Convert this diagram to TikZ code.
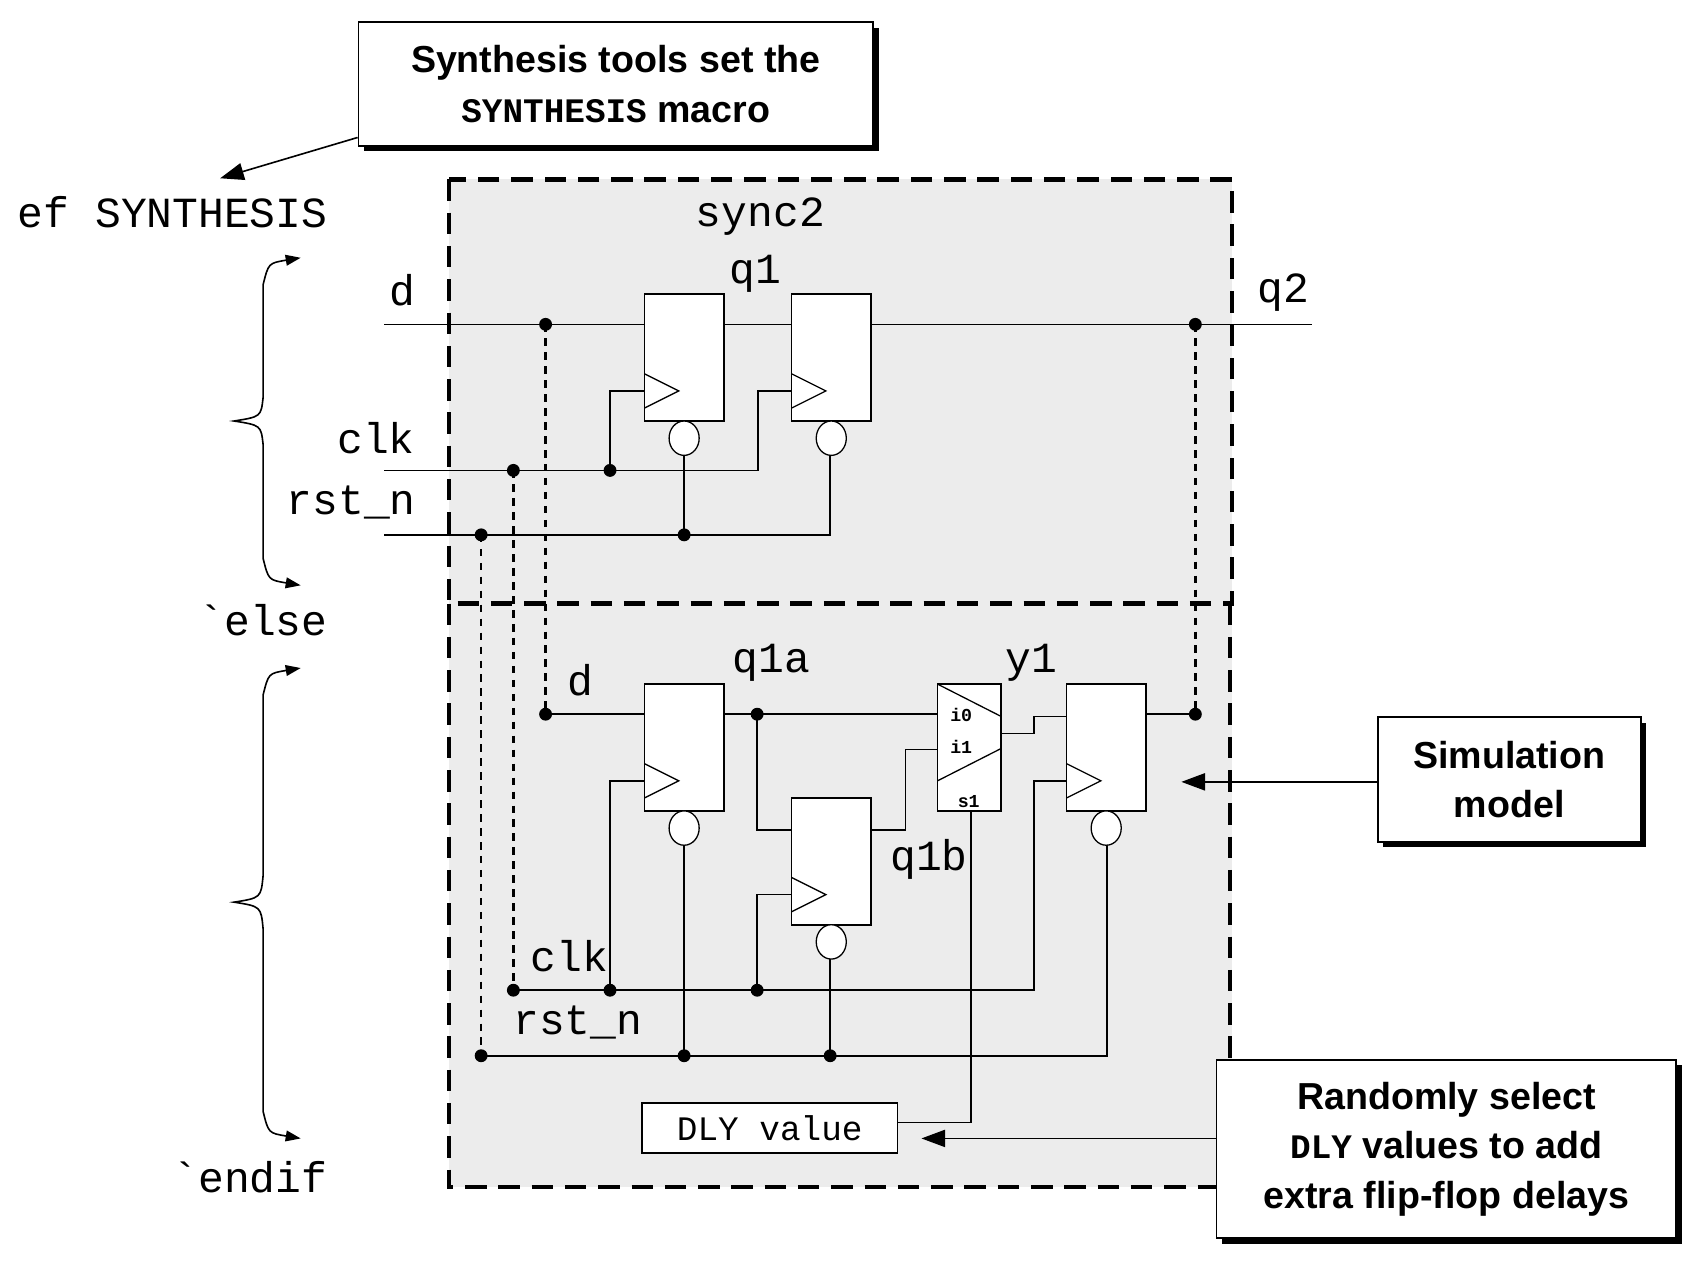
\documentclass[tikz,border=0pt]{standalone}
\usepackage{fontspec}
\setmainfont{Liberation Sans}
\newfontfamily\mono{Liberation Mono}
\usetikzlibrary{arrows.meta}
\begin{document}
\begin{tikzpicture}[x=1pt,y=-1pt,
  w/.style={line width=1.5pt},
  dsh/.style={line width=2.2pt,dash pattern=on 7pt off 6pt},
  bdash/.style={line width=4pt,dash pattern=on 20pt off 11pt},
  ff/.style={draw,fill=white,line width=1.5pt},
  dot/.style={circle,fill=black,inner sep=0pt,minimum size=12pt},
  lab/.style={font=\mono\fontsize{40}{40}\selectfont,inner sep=0pt},
  small/.style={font=\mono\bfseries\fontsize{17}{17}\selectfont,inner sep=0pt},
  call/.style={draw,line width=1.6pt,fill=white,align=center,font=\bfseries\fontsize{35}{46}\selectfont},
  arr/.style={line width=1.5pt,-{Triangle[length=22pt,width=16pt]}}]
\useasboundingbox (0,0) rectangle (1568,1176);
% gray boxes
\fill[gray!15] (418,167) rectangle (1147,1105);
\draw[bdash] (418,167) rectangle (1147,562);
\draw[bdash] (418,562) -- (418,1105) -- (1132,1105);
\draw[bdash] (1145,562) -- (1145,990);
% callouts
\fill (339,26) rectangle (818,141);
\node[call,minimum width=479pt,minimum height=115pt,anchor=north west] (syn) at (333,20) {Synthesis tools set the\\{\mono\bfseries\fontsize{32}{46}\selectfont SYNTHESIS} macro};
\node[lab,anchor=base east] (ifd) at (305,212) {ef SYNTHESIS};
\coordinate (synt) at (205,166);
\draw[arr] (333,128) -- (synt);
\fill (1288,673) rectangle (1533,789);
\node[call,minimum width=245pt,minimum height=116pt,anchor=north west] (sim) at (1282,667) {Simulation\\model};
\fill (1138,992) rectangle (1566,1158);
\node[call,minimum width=428pt,minimum height=166pt,anchor=north west,inner sep=0pt] (rnd) at (1132,986) {Randomly select\\{\mono\bfseries\fontsize{32}{46}\selectfont DLY} values to add\\extra flip-flop delays};
\coordinate (sims) at (1282,728);
\coordinate (simt) at (1100,728);
\draw[arr] (sims) -- (simt);
\node[draw,fill=white,line width=1.5pt,minimum width=238pt,minimum height=47pt,anchor=north west,font=\mono\fontsize{32}{32}\selectfont] (dly) at (597,1026) {DLY value};
\coordinate (rnds) at (1132,1060);
\coordinate (rndt) at (858,1060);
\draw[arr] (rnds) -- (rndt);
% braces
\draw[line width=1.5pt,{Triangle[length=14pt,width=10pt]}-{Triangle[length=14pt,width=10pt]}] (280,240) .. controls (250,245) .. (245,265) -- (245,370) .. controls (243,388) .. (218,392) .. controls (243,396) .. (245,414) -- (245,520) .. controls (250,540) .. (280,545);
\draw[line width=1.5pt,{Triangle[length=14pt,width=10pt]}-{Triangle[length=14pt,width=10pt]}] (280,622) .. controls (250,627) .. (245,647) -- (245,815) .. controls (243,836) .. (218,840) .. controls (243,844) .. (245,865) -- (245,1035) .. controls (250,1055) .. (280,1060);
\node[lab,anchor=base east] (els) at (305,592) {`else};
\node[lab,anchor=base east] (endf) at (305,1110) {`endif};
% labels
\node[lab] (s2) at (708,202) {sync2};
\node[lab] at (375,270) {d};
\node[lab] at (703,255) {q1};
\node[lab] at (1195,272) {q2};
\node[lab] at (350,408) {clk};
\node[lab] at (327,468) {rst\_n};
\node[lab] at (540,633) {d};
\node[lab] at (718,617) {q1a};
\node[lab] at (960,617) {y1};
\node[lab] at (865,800) {q1b};
\node[lab] at (530,890) {clk};
\node[lab] at (538,952) {rst\_n};
% dashed connections
\draw[dsh] (508,302) -- (508,665);
\draw[dsh] (478,438) -- (478,922);
\draw[dsh] (448,498) -- (448,983);
\draw[dsh] (1113,302) -- (1113,665);
% top wires
\draw[w] (358,302) -- (600,302) (674,302) -- (737,302) (811,302) -- (1222,302);
\draw[w] (358,438) -- (706,438) -- (706,364) -- (737,364);
\draw[w] (568,438) -- (568,364) -- (600,364);
\draw[w] (358,498) -- (773,498) -- (773,410);
\draw[w] (637,498) -- (637,410);
% bottom wires
\draw[w] (508,665) -- (600,665) (674,665) -- (873,665);
\draw[w] (705,665) -- (705,773) -- (737,773);
\draw[w] (811,773) -- (843,773) -- (843,698) -- (873,698);
\draw[w] (932,683) -- (963,683) -- (963,667) -- (993,667);
\draw[w] (1068,665) -- (1113,665);
\draw[w] (478,922) -- (963,922) -- (963,727) -- (993,727);
\draw[w] (568,922) -- (568,727) -- (600,727);
\draw[w] (705,922) -- (705,833) -- (737,833);
\draw[w] (448,983) -- (1031,983) -- (1031,780);
\draw[w] (637,983) -- (637,780);
\draw[w] (773,983) -- (773,880);
\draw[w] (904,755) -- (904,1045) -- (dly.east |- 0,1045);
% flip-flops
\foreach \x/\y/\n in {600/274/A,737/274/B,600/637/C,737/743/D,993/637/E}{
  \draw[ff] (\x,\y) rectangle ++(74,118);
  \draw[line width=1.2pt] (\x,\y+74) -- (\x+32,\y+90) -- (\x,\y+106);
  \draw[line width=1.2pt,fill=white] (\x+37,\y+134) ellipse (14pt and 16pt);
}
% mux
\draw[ff] (873,637) rectangle (932,755);
\draw[line width=1.2pt] (873,637) -- (932,667) (873,727) -- (932,697);
\node[small] at (895,666) {i0};
\node[small] at (895,695) {i1};
\node[small] at (902,746) {s1};
% dots
\foreach \p in {(508,302),(1113,302),(478,438),(568,438),(448,498),(637,498),(508,665),(705,665),(1113,665),(478,922),(568,922),(705,922),(448,983),(637,983),(773,983)}
  \node[dot] at \p {};
\end{tikzpicture}
\end{document}
